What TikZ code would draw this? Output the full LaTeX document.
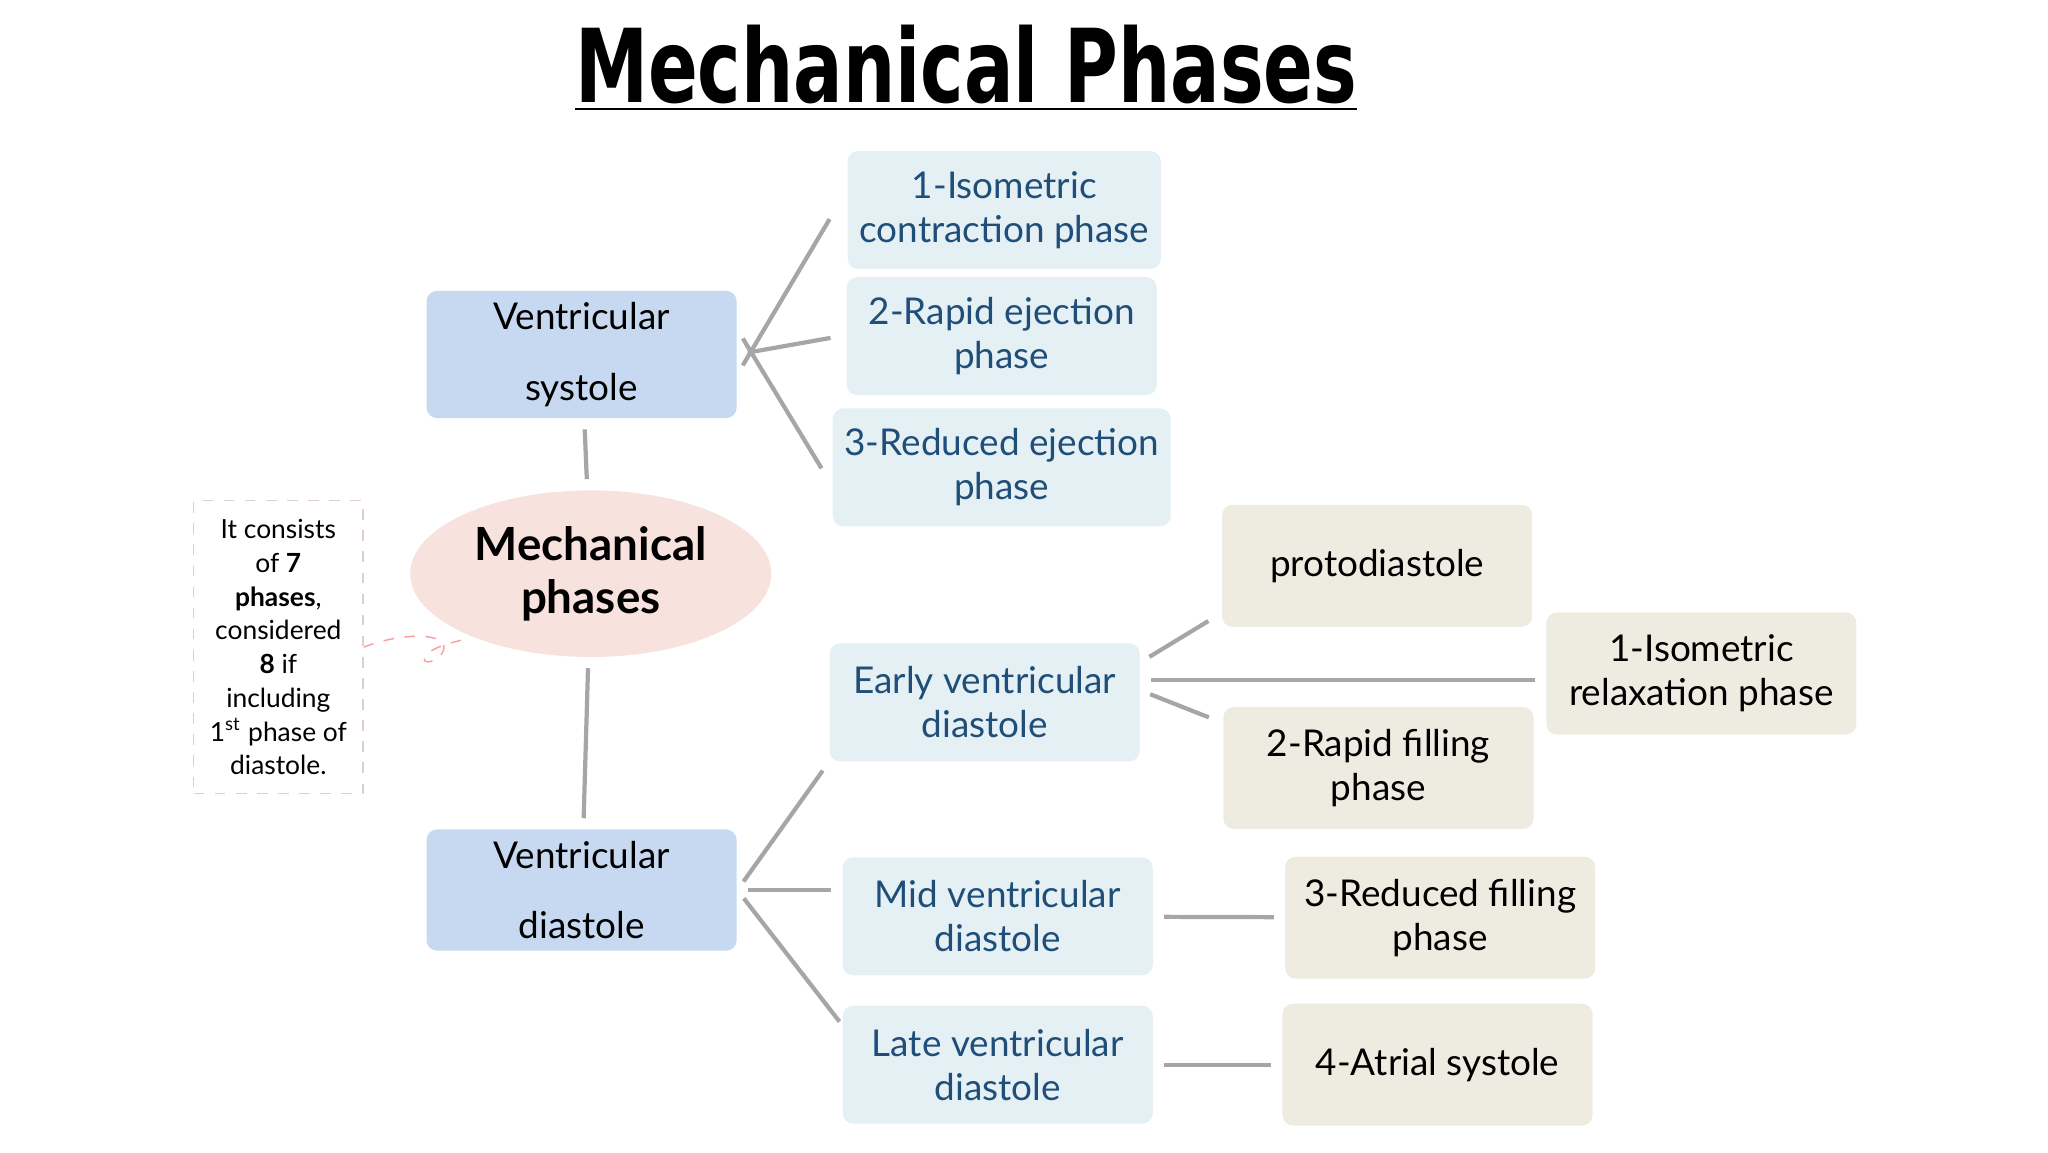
\documentclass[tikz,border=0pt]{standalone}
\usepackage{fontspec}
\setmainfont{Lato}
\newfontfamily\titlefont{DejaVu Sans}
\usetikzlibrary{positioning,shapes.geometric}
\definecolor{sysblue}{HTML}{C6D9F1}
\definecolor{subblue}{HTML}{E5F0F5}
\definecolor{subtext}{HTML}{1F4E79}
\definecolor{beige}{HTML}{EEECE1}
\definecolor{pinkell}{HTML}{F8E2DD}
\definecolor{linegray}{HTML}{A6A6A6}

\tikzset{
  main/.style={fill=sysblue,rounded corners=3pt,minimum width=3.1cm,minimum height=1.18cm,align=center,font=\fontsize{10.5}{20}\selectfont},
  sub/.style={fill=subblue,rounded corners=3pt,minimum width=3.1cm,minimum height=1.18cm,align=center,text=subtext,font=\fontsize{10.5}{12.5}\selectfont},
  phase/.style={fill=beige,rounded corners=3pt,minimum width=3.1cm,minimum height=1.22cm,align=center,font=\fontsize{10.5}{12.5}\selectfont},
  link/.style={draw=linegray,line width=1.2pt,shorten <=3pt,shorten >=3pt}
}

\begin{document}
\begin{tikzpicture}[x=0.01313cm,y=-0.01313cm]
\useasboundingbox (0,0) rectangle (1560,878);
% title
\node (title) at (736,52) {\titlefont\bfseries\fontsize{29}{30}\selectfont\scalebox{0.72}[1]{\underline{Mechanical Phases}}};
% centre
\node[ellipse,fill=pinkell,minimum width=3.28cm,minimum height=1.6cm,align=center,font=\bfseries\fontsize{13}{15}\selectfont] (mp) at (450,437) {Mechanical\\phases};
\node[main] (vs) at (443,270) {Ventricular\\systole};
\node[main] (vd) at (443,678) {Ventricular\\diastole};
\node[draw=pinkell!80!gray,dashed,minimum width=1.69cm,minimum height=2.93cm,align=center,font=\fontsize{7.5}{9.6}\selectfont] (note) at (212,493) {It consists\\of \textbf{7}\\\textbf{phases},\\considered\\\textbf{8} if\\including\\1\textsuperscript{st} phase of\\diastole.};
% systole
\node[sub] (s1) at (765,160) {1-Isometric\\contraction phase};
\node[sub] (s2) at (763,256) {2-Rapid ejection\\phase};
\node[sub] (s3) at (763,356) {3-Reduced ejection\\phase};
% diastole
\node[sub] (early) at (750,535) {Early ventricular\\diastole};
\node[sub] (mid) at (760,698) {Mid ventricular\\diastole};
\node[sub] (late) at (760,811) {Late ventricular\\diastole};
\node[phase] (proto) at (1049,431) {protodiastole};
\node[phase] (isorel) at (1296,513) {1-Isometric\\relaxation phase};
\node[phase] (rapid) at (1050,585) {2-Rapid filling\\phase};
\node[phase] (reduced) at (1097,699) {3-Reduced filling\\phase};
\node[phase] (atrial) at (1095,811) {4-Atrial systole};
% connectors
\draw[link] ([yshift=-0.2cm]vs.east) -- ([xshift=-0.12cm]s1.west);
\draw[link] (vs.east) -- ([xshift=-0.05cm]s2.west);
\draw[link] ([yshift=0.25cm]vs.east) -- ([xshift=-0.05cm,yshift=-0.1cm]s3.west);
\draw[link] (vs) -- (mp);
\draw[link] (mp) -- (vd);
\draw[link] (vd.east) -- (early.south west);
\draw[link] (vd.east) -- (mid.west |- vd.east);
\draw[link] (vd.east) -- ([xshift=0.04cm,yshift=-0.25cm]late.north west);
\coordinate (earlymid) at ([yshift=0.22cm]early.east);
\draw[link] ([yshift=0.4cm]early.east) -- ([xshift=-0.04cm,yshift=0.12cm]proto.south west);
\draw[link] (earlymid) -- (isorel.west |- earlymid);
\draw[link] ([yshift=0.12cm]early.east) -- ([xshift=-0.04cm,yshift=-0.15cm]rapid.north west);
\draw[link] (mid) -- (reduced);
\draw[link] (late) -- (atrial);
\draw[pinkell!70!red,dashed,thin] (note.east) .. controls (310,480) and (350,482) .. (335,500) .. controls (320,512) and (312,495) .. (355,487);
\end{tikzpicture}
\end{document}
